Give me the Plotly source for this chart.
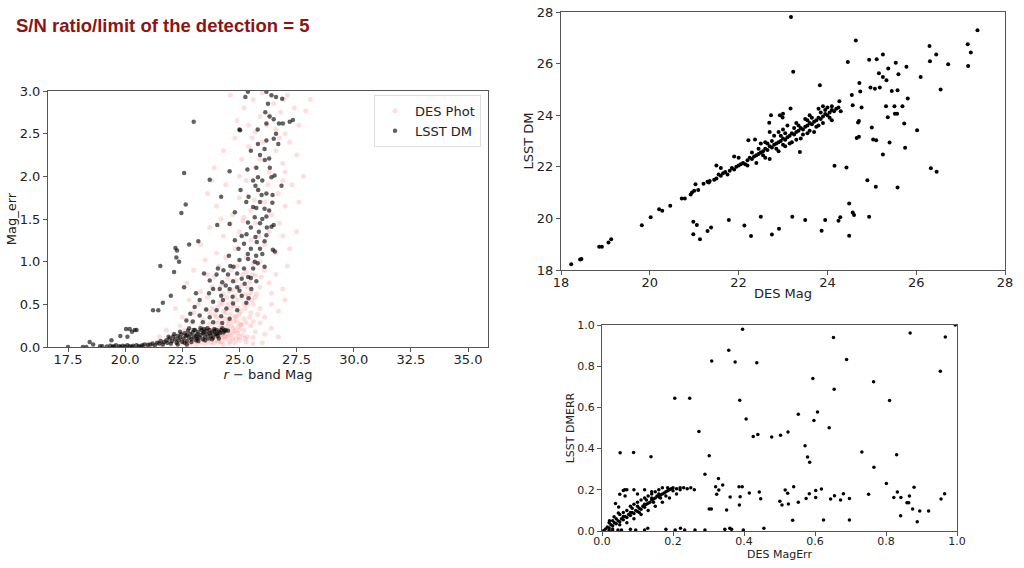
import plotly.graph_objects as go

# ---------------- data: panel 1 (r-band mag vs mag err) ----------------
des_phot_pts = [
    (24.6,2.95),(25.2,2.8),(25.6,2.9),(25.9,2.7),(26.2,2.6),(26.5,2.85),(26.8,2.75),(27.1,2.95),(27.4,2.8),(27.9,2.77),
    (28.1,2.9),(25.4,2.6),(26.0,2.98),(26.6,2.55),(27.0,2.5),(27.6,2.6),(24.9,2.65),(25.7,2.52),(26.3,2.72),(26.95,2.9),
    (24.3,2.3),(24.8,2.45),(25.1,2.2),(25.4,2.35),(25.7,2.1),(26.0,2.4),(26.3,2.05),(26.6,2.3),(26.9,2.15),(27.2,2.4),
    (27.5,2.25),(27.8,2.0),(25.0,2.0),(25.9,2.2),(26.75,2.45),(23.9,2.1),(27.0,2.05),(25.55,2.45),
    (23.6,1.8),(24.0,1.65),(24.4,1.9),(24.7,1.55),(25.0,1.75),(25.3,1.95),(25.5,1.6),(25.8,1.85),(26.1,1.7),(26.4,1.55),
    (26.7,1.8),(27.0,1.65),(27.3,1.9),(27.6,1.7),(24.2,1.5),(25.2,1.52),(26.9,1.95),(25.65,1.72),(26.25,1.9),(23.8,1.95),
    (23.3,1.2),(23.7,1.4),(24.0,1.1),(24.3,1.3),(24.6,1.45),(24.8,1.15),(25.0,1.35),(25.3,1.05),(25.5,1.25),(25.7,1.45),
    (25.9,1.0),(26.1,1.2),(26.3,1.35),(26.6,1.1),(26.9,1.3),(27.2,1.15),(27.5,1.35),(24.4,1.05),(25.15,1.48),(26.75,1.45),
    (23.5,1.02),(25.85,1.3),
    (22.7,0.75),(23.0,0.9),(23.3,0.65),(23.6,0.85),(23.8,0.7),(24.1,0.95),(24.3,0.62),(24.5,0.8),(24.7,0.67),(24.9,0.95),
    (25.1,0.72),(25.3,0.88),(25.5,0.64),(25.7,0.84),(25.9,0.7),(26.1,0.9),(26.3,0.75),(26.6,0.85),(26.9,0.68),(27.1,0.95),
    (23.9,0.82),(24.65,0.9),(25.25,0.62),(25.6,0.98),(26.4,0.63),(24.2,0.73),(24.85,0.78),(25.45,0.76),
    (22.2,0.45),(22.5,0.35),(22.8,0.55),(23.0,0.4),(23.2,0.5),(23.4,0.32),(23.6,0.58),(23.8,0.45),(24.0,0.35),(24.15,0.52),
    (24.3,0.42),(24.45,0.58),(24.6,0.38),(24.75,0.48),(24.9,0.55),(25.05,0.42),(25.2,0.33),(25.35,0.5),(25.5,0.4),(25.7,0.58),
    (25.9,0.45),(26.1,0.35),(26.4,0.5),(26.7,0.42),(27.0,0.55),(24.05,0.47),(24.55,0.31),(24.85,0.36),(25.1,0.58),(25.6,0.3),
    (23.5,0.44),(24.35,0.33),(24.7,0.53),(24.95,0.46),(25.25,0.45),(24.5,0.5),
    (21.5,0.12),(21.8,0.2),(22.1,0.15),(22.4,0.25),(22.7,0.12),(22.9,0.28),(23.1,0.18),(23.3,0.24),(23.5,0.14),(23.7,0.27),
    (23.9,0.2),(24.05,0.12),(24.2,0.26),(24.35,0.18),(24.5,0.28),(24.6,0.14),(24.75,0.22),(24.9,0.16),(25.05,0.27),(25.2,0.2),
    (25.35,0.12),(25.5,0.25),(25.7,0.18),(25.9,0.28),(26.1,0.15),(26.4,0.22),(26.7,0.12),(24.1,0.22),(24.4,0.15),(24.65,0.25),
    (24.85,0.1),(25.15,0.14),(23.6,0.22),(23.2,0.12),(22.6,0.2),(24.25,0.11),(24.55,0.2),(24.95,0.24),(23.95,0.28),(25.6,0.11),
    (24.45,0.24),(24.8,0.19),(24.3,0.21),(24.7,0.16),(25.0,0.2),(24.15,0.17),
    (20.6,0.01),(20.9,0.02),(21.2,0.01),(21.4,0.04),(21.6,0.02),(21.8,0.05),(22.0,0.03),(22.2,0.07),(22.4,0.04),(22.6,0.08),
    (22.8,0.05),(23.0,0.09),(23.2,0.06),(23.4,0.1),(23.6,0.07),(23.8,0.1),(24.0,0.08),(24.2,0.06),(24.4,0.09),(24.6,0.07),
    (24.8,0.05),(25.0,0.08),(25.3,0.06),(25.6,0.04),(26.0,0.05),(23.1,0.03),(23.5,0.04),(23.9,0.05),(22.9,0.1),(24.3,0.03),
    (21.0,0.0),(20.3,0.0),
    (22.7,0.02),(22.9,0.04),(23.1,0.07),(23.3,0.05),(23.45,0.08),(23.65,0.12),(23.75,0.05),(23.85,0.14),(24.0,0.17),(24.1,0.06),
    (24.2,0.14),(24.35,0.12),(24.5,0.13),(24.55,0.04),(24.7,0.1),(24.75,0.3),(24.8,0.35),(24.9,0.3),(25.0,0.38),(25.1,0.26),
    (25.2,0.5),(25.3,0.28),(25.4,0.6),(25.45,0.35),(25.55,0.55),(25.8,0.38),(24.6,0.45),(24.4,0.4),(24.25,0.5),(24.1,0.3),
    (23.9,0.38),(23.7,0.4),(24.95,0.7),(25.15,0.85),(25.35,0.7),(25.55,0.85),(25.75,0.62),(25.95,0.82),(25.0,0.12),(25.25,0.1),
    (23.4,0.2),(23.8,0.18),(22.8,0.16),(22.5,0.1),(24.8,0.6),(24.55,0.65),(25.6,0.5),
]

lsst_dm_pts = [
    (22.58,2.04),(23.0,2.64),(22.46,1.57),(22.65,1.67),(23.7,1.96),(24.2,1.76),(24.03,1.43),(24.57,1.44),(22.8,1.2),(23.2,1.24),
    (22.2,1.16),(22.27,1.13),(22.24,1.05),(22.36,1.0),(22.14,0.88),(21.54,0.95),(22.0,0.6),(21.65,0.52),(22.58,0.7),(23.1,0.63),
    (21.22,0.43),(21.45,0.43),(20.04,0.21),(20.2,0.21),(20.42,0.2),(20.3,0.18),(20.5,0.2),(19.79,0.13),(20.1,0.12),(19.4,0.08),
    (18.45,0.06),(17.5,0.0),(18.15,0.0),(18.3,0.0),(18.9,0.01),(18.6,0.03),
    (25.26,2.93),(25.37,2.99),(26.18,2.99),(26.4,2.95),(26.6,2.93),(26.87,2.91),(26.13,2.75),(26.32,2.7),(26.5,2.67),(26.9,2.62),
    (27.2,2.64),(27.34,2.66),(26.73,2.62),(25.0,2.55),(25.03,2.54),(26.18,2.62),(25.81,2.38),(26.18,2.42),(26.1,2.32),(26.5,2.44),
    (26.7,2.38),(24.57,2.06),(25.35,2.08),(25.74,2.1),(26.11,2.19),(26.3,2.21),(26.33,2.1),(25.81,1.99),(26.0,1.95),(26.4,1.99),
    (26.54,2.01),(26.84,1.89),(25.05,1.84),(25.7,1.89),(25.82,1.84),(26.18,1.8),(26.45,1.78),(25.4,1.76),(25.97,1.78),(26.44,1.69),
    (24.8,1.58),(25.6,1.64),(25.74,1.63),(26.1,1.62),(25.67,1.52),(26.0,1.5),(26.18,1.53),(25.37,1.46),(25.9,1.45),(26.4,1.41),
    (26.5,1.43),(25.31,1.32),(25.7,1.29),(25.85,1.35),(26.18,1.31),(25.2,1.21),(25.76,1.23),(26.1,1.24),(26.46,1.14),(26.55,1.12),
    (24.96,1.15),(25.37,1.09),(25.73,1.07),(26.0,1.09),(24.54,1.07),(25.0,1.02),(25.38,1.03),(25.67,1.0),(25.8,0.98),(24.06,0.92),
    (24.74,0.94),(25.2,0.92),(25.6,0.92),(26.1,0.94),(23.45,0.86),(24.0,0.85),(24.5,0.85),(24.9,0.86),(25.38,0.82),(25.5,0.81),
    (23.7,0.78),(24.25,0.76),(24.72,0.77),(25.23,0.74),(25.74,0.77),(23.85,0.68),(24.14,0.68),(24.57,0.68),(25.0,0.66),(25.52,0.68),
    (23.67,0.63),(24.2,0.6),(24.7,0.59),(25.1,0.6),(25.4,0.57),(23.26,0.55),(23.85,0.53),(24.28,0.55),(24.72,0.51),(25.3,0.52),
    (23.04,0.47),(23.55,0.44),(24.0,0.43),(24.43,0.45),(24.9,0.43),(22.85,0.39),(23.26,0.37),(23.7,0.35),(24.2,0.36),(24.57,0.33),
    (22.68,0.31),(22.96,0.3),(23.4,0.29),(23.85,0.29),(24.25,0.28),
    (25.5,2.3),(25.9,2.25),(25.6,1.95),(25.3,1.7),(25.9,1.7),(25.5,1.4),(26.2,1.4),(25.1,1.3),(25.5,1.15),(24.8,1.25),
    (24.6,0.95),(25.1,0.8),(24.4,0.72),(25.8,2.55),(26.25,2.85),(26.6,2.5),(24.9,0.7),(24.3,0.9),(25.9,1.15),(26.3,1.6),
    (19.0,0.01),(19.2,0.005),(19.35,0.015),(19.5,0.01),(19.6,0.02),(19.75,0.01),(19.9,0.015),(20.0,0.005),(20.1,0.02),(20.2,0.01),
    (20.35,0.015),(20.5,0.02),(20.6,0.01),(20.75,0.02),(20.85,0.03),(21.0,0.025),(19.45,0.0),(19.8,0.0),(20.3,0.0),(20.7,0.005),
    (21.1,0.03),(21.2,0.04),(21.3,0.02),(21.4,0.05),(21.5,0.04),(21.55,0.07),(21.65,0.03),(21.7,0.06),(21.8,0.08),(21.85,0.05),
    (21.95,0.1),(22.0,0.04),(22.05,0.07),(22.1,0.12),(22.2,0.09),(22.25,0.05),(22.3,0.13),(22.35,0.08),(22.4,0.11),(22.45,0.15),
    (22.5,0.06),(21.9,0.12),(22.15,0.15),
    (22.55,0.1),(22.6,0.16),(22.65,0.13),(22.7,0.07),(22.75,0.19),(22.8,0.11),(22.85,0.15),(22.9,0.09),(22.95,0.17),(23.0,0.12),
    (23.05,0.2),(23.1,0.08),(23.15,0.15),(23.2,0.18),(23.25,0.11),(23.3,0.14),(23.35,0.2),(23.4,0.09),(23.45,0.17),(23.5,0.12),
    (23.55,0.19),(23.6,0.15),(23.65,0.1),(23.7,0.2),(23.75,0.13),(23.8,0.17),(23.85,0.11),(23.9,0.19),(23.95,0.15),(24.0,0.2),
    (24.05,0.13),(24.1,0.18),(24.15,0.16),(24.2,0.2),(24.3,0.17),(24.4,0.2),(24.5,0.19),(22.6,0.05),(22.9,0.06),(23.2,0.07),
    (23.5,0.08),(23.8,0.09),(24.1,0.1),(23.0,0.2),(22.8,0.22),(23.3,0.22),(23.6,0.22),(23.9,0.21),(24.25,0.22),(22.7,0.14),
    (23.1,0.13),(23.4,0.16),(23.7,0.16),(24.0,0.15),(22.4,0.18),(22.3,0.03),(22.7,0.03),(23.45,0.21),(24.35,0.19),(23.15,0.1),
]

# ---------------- data: panel 2 (DES mag vs LSST DM mag) ----------------
mag_pts = [
    (23.18,27.81),(24.64,26.9),(27.38,27.29),(24.46,26.06),(24.94,26.15),(25.11,26.17),(25.25,26.35),(25.54,26.03),(26.3,26.68),
    (26.45,26.35),(26.55,25.0),(26.31,26.09),(26.72,25.97),(27.16,26.75),(27.23,26.43),(27.17,25.91),
    (23.23,25.68),(25.16,25.63),(25.37,25.81),(25.6,25.59),(25.78,25.88),(26.1,25.48),
    (23.83,25.16),(24.72,25.25),(24.97,25.07),(25.07,25.03),(25.18,25.07),(25.25,25.48),(25.33,25.35),(25.45,24.94),(25.58,24.97),
    (24.74,24.92),(24.55,24.78),(25.81,24.65),(24.27,24.54),(24.57,24.39),(24.77,24.3),(25.32,24.35),(25.51,24.35),(25.69,24.35),
    (25.52,24.06),(25.57,24.06),(25.36,23.92),(24.71,23.78),(25.73,23.68),(24.69,23.72),(25.0,23.52),(26.02,23.42),
    (24.71,23.16),(24.66,23.12),(25.03,23.06),(25.1,23.03),(25.4,22.94),(25.75,22.74),(23.38,22.57),(25.25,22.48),
    (24.16,22.04),(24.43,21.97),(24.9,21.48),(25.09,21.23),(25.58,21.2),(26.33,21.94),(26.46,21.81),
    (24.49,20.58),(24.57,20.23),(24.6,20.13),(24.94,20.06),
    (20.98,19.87),(21.06,19.74),(20.98,19.39),(21.13,19.19),(21.3,19.51),(21.38,19.65),(21.78,19.94),(22.13,19.72),(22.28,19.32),
    (22.5,20.06),(22.75,19.38),(22.91,19.6),(23.21,20.06),(23.5,19.94),(23.87,19.52),(23.95,19.94),(24.25,19.91),(24.29,20.04),
    (24.49,19.33),
    (18.23,18.22),(18.43,18.41),(18.46,18.43),(18.86,18.9),(18.92,18.9),(19.07,19.07),(19.13,19.19),(19.82,19.73),(20.02,20.04),
    (20.21,20.35),(20.28,20.3),(20.46,20.49),(20.72,20.77),(20.79,20.77),(20.92,20.93),(20.95,21.0),(21.0,21.07),(21.09,21.1),
    (21.03,21.32),(21.21,21.34),(21.3,21.42),(21.33,21.39),
    (22.73,24.0),(22.93,24.0),(22.99,23.91),(23.0,24.06),(23.17,24.26),(22.22,23.03),(22.37,23.06),(22.69,23.71),
    (21.35,21.45),(21.45,21.5),(21.5,21.55),(21.55,21.7),(21.6,21.65),(21.65,21.75),(21.7,21.8),(21.75,21.7),(21.8,21.85),
    (21.85,21.95),(21.9,21.9),(21.95,22.0),(22.0,22.05),(22.05,22.1),(22.1,22.15),(22.15,22.1),(22.2,22.25),(22.25,22.35),
    (22.3,22.3),(22.35,22.4),(22.4,22.45),(22.45,22.5),(22.5,22.55),(22.55,22.6),(22.6,22.7),(22.65,22.65),(22.7,22.8),
    (22.75,22.75),(22.8,22.85),(22.85,22.9),(22.9,22.95),(22.95,23.0),(23.0,23.1),(23.05,23.05),(23.1,23.15),(23.15,23.2),
    (23.2,23.3),(23.25,23.25),(23.3,23.35),(23.35,23.4),(23.4,23.5),(23.45,23.45),(23.5,23.55),(23.55,23.6),(23.6,23.7),
    (23.65,23.65),(23.7,23.75),(23.75,23.8),(23.8,23.9),(23.85,23.85),(23.9,23.95),(23.95,24.05),(24.0,24.0),(24.05,24.1),
    (24.1,24.2),(24.15,24.15),(24.2,24.25),(24.25,24.3),
    (21.5,22.05),(21.6,21.95),(21.9,22.4),(22.0,22.35),(22.3,22.55),(22.5,22.9),(22.6,22.95),(22.7,23.35),(22.8,23.2),
    (22.9,23.35),(23.0,23.45),(23.1,23.6),(23.3,23.7),(23.5,23.85),(23.6,24.0),(23.8,24.25),(23.9,24.35),(24.0,24.3),
    (24.1,24.35),(22.4,22.15),(22.6,22.35),(22.7,22.3),(22.9,22.6),(23.0,22.85),(23.2,22.95),(23.4,23.1),(23.6,23.4),
    (23.7,23.35),(23.9,23.7),(24.1,23.8),(22.2,22.05),(22.55,22.45),(22.85,22.7),(23.15,22.9),(23.45,23.25),(23.75,23.55),
    (24.05,23.9),(22.45,22.7),(22.75,23.0),(23.05,23.3),(23.35,23.6),(23.65,23.9),(23.95,24.2),(24.3,24.15),(22.95,23.2),
    (23.25,23.5),(23.55,23.8),(23.85,24.1),(22.65,22.9),(23.05,22.8),(23.3,23.05),(23.55,23.3),(23.8,23.6),
]

# ---------------- data: panel 3 (DES mag err vs LSST DM err) ----------------
err_pts = [
    (0.396,0.979),(0.357,0.877),(0.309,0.825),(0.375,0.82),(0.436,0.817),(0.652,0.939),(0.868,0.961),(0.967,0.942),(0.995,1.0),
    (0.689,0.832),(0.953,0.775),(0.594,0.74),(0.765,0.724),(0.654,0.688),(0.81,0.633),(0.388,0.635),
    (0.205,0.645),(0.247,0.645),(0.273,0.483),(0.406,0.544),(0.553,0.567),(0.607,0.578),(0.597,0.536),(0.64,0.501),
    (0.426,0.459),(0.439,0.468),(0.478,0.456),(0.503,0.465),(0.524,0.48),
    (0.572,0.414),(0.579,0.359),(0.585,0.334),(0.302,0.365),(0.732,0.383),(0.83,0.37),(0.766,0.31),
    (0.051,0.38),(0.089,0.381),(0.138,0.36),
    (0.29,0.275),(0.328,0.255),(0.34,0.223),(0.32,0.215),(0.329,0.199),(0.323,0.179),(0.386,0.215),(0.395,0.215),
    (0.361,0.165),(0.389,0.166),(0.387,0.126),(0.415,0.184),(0.443,0.189),(0.447,0.157),(0.351,0.102),(0.302,0.107),(0.308,0.107),
    (0.516,0.199),(0.523,0.183),(0.525,0.131),(0.537,0.052),(0.54,0.215),(0.553,0.139),(0.575,0.158),(0.584,0.181),
    (0.602,0.197),(0.602,0.163),(0.618,0.204),(0.624,0.053),(0.644,0.155),(0.655,0.171),(0.672,0.15),(0.68,0.181),
    (0.697,0.158),(0.697,0.053),(0.501,0.145),(0.507,0.126),
    (0.751,0.179),(0.801,0.231),(0.822,0.163),(0.832,0.189),(0.842,0.163),(0.859,0.137),(0.864,0.137),(0.866,0.17),
    (0.875,0.107),(0.879,0.212),(0.895,0.097),(0.92,0.097),(0.888,0.045),(0.841,0.074),(0.955,0.155),(0.965,0.181),
    (0.045,0.005),(0.055,0.005),(0.08,0.008),(0.095,0.005),(0.12,0.005),(0.129,0.013),(0.18,0.008),(0.206,0.005),
    (0.221,0.013),(0.233,0.005),(0.262,0.005),(0.29,0.005),(0.346,0.008),(0.36,0.013),(0.365,0.008),(0.398,0.005),
    (0.456,0.013),(0.02,0.005),(0.03,0.002),
    (0.05,0.179),(0.06,0.197),(0.064,0.2),(0.047,0.116),(0.038,0.134),(0.046,0.087),(0.034,0.069),(0.021,0.05),
    (0.005,0.003),(0.01,0.01),(0.015,0.02),(0.02,0.015),(0.025,0.03),(0.03,0.025),(0.035,0.04),(0.04,0.035),(0.045,0.05),
    (0.05,0.045),(0.055,0.06),(0.06,0.055),(0.065,0.07),(0.07,0.065),(0.075,0.08),(0.08,0.075),(0.085,0.09),(0.09,0.085),
    (0.095,0.1),(0.1,0.095),(0.105,0.11),(0.11,0.105),(0.115,0.12),(0.12,0.115),(0.125,0.13),(0.13,0.135),(0.135,0.14),
    (0.14,0.15),(0.145,0.155),(0.15,0.16),(0.155,0.17),(0.16,0.165),(0.165,0.175),(0.17,0.18),(0.175,0.185),(0.18,0.19),
    (0.185,0.195),(0.19,0.2),(0.195,0.205),(0.2,0.195),(0.21,0.205),(0.22,0.2),(0.23,0.21),(0.24,0.205),(0.25,0.21),(0.26,0.2),
    (0.02,0.04),(0.03,0.05),(0.04,0.06),(0.05,0.08),(0.06,0.09),(0.07,0.1),(0.08,0.12),(0.09,0.13),(0.1,0.14),(0.11,0.15),
    (0.12,0.16),(0.13,0.17),(0.14,0.18),(0.15,0.19),(0.16,0.2),(0.17,0.21),(0.03,0.01),(0.05,0.03),(0.07,0.04),(0.09,0.06),
    (0.11,0.08),(0.13,0.1),(0.15,0.12),(0.17,0.14),(0.19,0.16),(0.21,0.18),(0.18,0.17),(0.2,0.21),(0.22,0.21),(0.08,0.09),
    (0.1,0.12),(0.12,0.13),(0.06,0.07),(0.14,0.16),(0.16,0.18),(0.085,0.11),(0.105,0.09),(0.125,0.15),(0.145,0.14),
    (0.165,0.16),(0.185,0.21),(0.09,0.2),(0.07,0.2),(0.1,0.18),(0.12,0.2),(0.14,0.19),(0.065,0.17),
]

des_x = [p[0] for p in des_phot_pts]
des_y = [p[1] for p in des_phot_pts]
lsst_x = [p[0] for p in lsst_dm_pts]
lsst_y = [p[1] for p in lsst_dm_pts]
mag_x = [p[0] for p in mag_pts]
mag_y = [p[1] for p in mag_pts]
err_x = [p[0] for p in err_pts]
err_y = [p[1] for p in err_pts]

FONT = "DejaVu Sans"
fig = go.Figure()

fig.add_trace(go.Scatter(x=des_x, y=des_y, mode="markers", name="DES Phot",
                         marker=dict(color="rgba(255,0,0,0.13)", size=5, line=dict(width=0)),
                         xaxis="x", yaxis="y"))
fig.add_trace(go.Scatter(x=lsst_x, y=lsst_y, mode="markers", name="LSST DM",
                         marker=dict(color="rgba(0,0,0,0.62)", size=4.5, line=dict(width=0)),
                         xaxis="x", yaxis="y"))
fig.add_trace(go.Scatter(x=mag_x, y=mag_y, mode="markers", showlegend=False,
                         marker=dict(color="black", size=4, line=dict(width=0)),
                         xaxis="x2", yaxis="y2"))
fig.add_trace(go.Scatter(x=err_x, y=err_y, mode="markers", showlegend=False,
                         marker=dict(color="black", size=3.5, line=dict(width=0)),
                         xaxis="x3", yaxis="y3"))

def ax(domain, rng, dtick, fmt, title, size, anchor, tick0=None, standoff=0, lblshift=0):
    d = dict(domain=domain, range=rng, dtick=dtick, tickformat=fmt, anchor=anchor,
             showline=True, mirror=True, linecolor="#555", linewidth=1, automargin=False,
             ticks="outside", ticklen=4, tickcolor="#555", showgrid=False, zeroline=False,
             ticklabelstandoff=lblshift,
             tickfont=dict(family=FONT, size=size, color="#222"),
             title=dict(text=title, font=dict(family=FONT, size=size, color="#222"), standoff=standoff))
    if tick0 is not None:
        d["tick0"] = tick0
    return d

W, H = 1024, 568
fig.update_layout(
    width=W, height=H, margin=dict(l=0, r=0, t=0, b=0, autoexpand=False),
    paper_bgcolor="white", plot_bgcolor="white",
    xaxis=ax([48/W, 488/W], [16.625, 35.875], 2.5, ".1f", "<i>r</i> − band Mag", 13, "y", tick0=17.5, lblshift=-4),
    yaxis=ax([1-347/H, 1-91/H], [0, 3.0], 0.5, ".1f", "Mag_err", 13, "x"),
    xaxis2=ax([561/W, 1005/W], [18, 28], 2, "d", "DES Mag", 13, "y2", lblshift=-4),
    yaxis2=ax([1-270/H, 1-12/H], [18, 28], 2, "d", "LSST DM", 13, "x2"),
    xaxis3=ax([602/W, 957/W], [0, 1], 0.2, ".1f", "DES MagErr", 11, "y3", lblshift=-4),
    yaxis3=ax([1-531/H, 1-325/H], [0, 1], 0.2, ".1f", "LSST DMERR", 11, "x3"),
    legend=dict(x=481/W, y=1-95/H, xanchor="right", yanchor="top",
                bgcolor="white", bordercolor="#ddd", borderwidth=1,
                font=dict(family=FONT, size=13, color="#222"), itemsizing="trace"),
    annotations=[dict(text="<b>S/N ratio/limit of the detection = 5</b>", x=14/W, y=1-25/H,
                      xref="paper", yref="paper", xanchor="left", yanchor="middle", showarrow=False,
                      font=dict(family="Liberation Sans", size=18.5, color="#8B1414"))],
)

fig.write_html("out.html")
